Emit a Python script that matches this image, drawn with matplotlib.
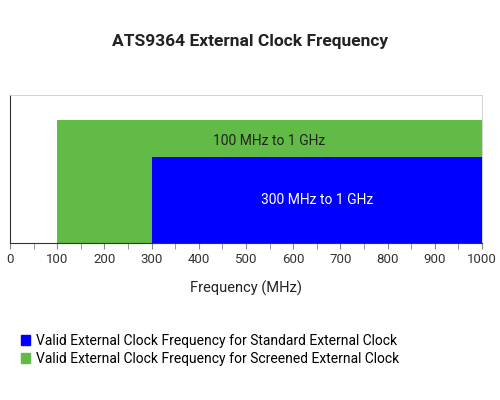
import matplotlib
matplotlib.use("Agg")
import matplotlib.pyplot as plt
from matplotlib.patches import Patch

plt.rcParams['font.family'] = ['Roboto', 'DejaVu Sans']

bar_starts = [100, 300]
bar_ends = [1000, 1000]
bar_heights = [0.83, 0.58]
bar_colors = ['#62bb46', '#0000ff']
bar_labels = ['100 MHz to 1 GHz', '300 MHz to 1 GHz']
label_colors = ['#222222', 'white']
label_y = [0.69, 0.29]
legend_labels = ['Valid External Clock Frequency for Standard External Clock',
                 'Valid External Clock Frequency for Screened External Clock']
xticks = list(range(0, 1001, 100))

fig = plt.figure(figsize=(5, 4), dpi=100)
ax = fig.add_axes([0.02, 0.3925, 0.944, 0.37])
for s, e, h, c in zip(bar_starts, bar_ends, bar_heights, bar_colors):
    ax.bar(s, h, width=e - s, align='edge', color=c, linewidth=0)
for s, e, t, c, y in zip(bar_starts, bar_ends, bar_labels, label_colors, label_y):
    ax.text((s + e) / 2, y, t, ha='center', va='center', color=c, fontsize=10)
ax.set_xlim(0, 1000)
ax.set_ylim(0, 1)
ax.set_yticks([])
ax.set_xticks(xticks)
ax.set_xticks(range(50, 1000, 100), minor=True)
ax.tick_params(axis='x', which='both', length=4, color='#888888', labelsize=9.5, labelcolor='#333333')
for sp in ['top', 'right']:
    ax.spines[sp].set_color('#cccccc')
    ax.spines[sp].set_linewidth(0.6)
for sp in ['left', 'bottom']:
    ax.spines[sp].set_color('#333333')
ax.set_xlabel('Frequency (MHz)', fontsize=10.5, color='#222222', labelpad=10)
fig.suptitle('ATS9364 External Clock Frequency', fontsize=12.5, fontweight='bold', y=0.915, color='#222222')
handles = [Patch(color=bar_colors[1]), Patch(color=bar_colors[0])]
fig.legend(handles, legend_labels, loc='upper left', bbox_to_anchor=(0.03, 0.18), frameon=False,
           fontsize=10, handlelength=0.7, handleheight=0.7, handletextpad=0.4, labelspacing=0.3,
           borderaxespad=0)
fig.savefig('out.png', dpi=100)
